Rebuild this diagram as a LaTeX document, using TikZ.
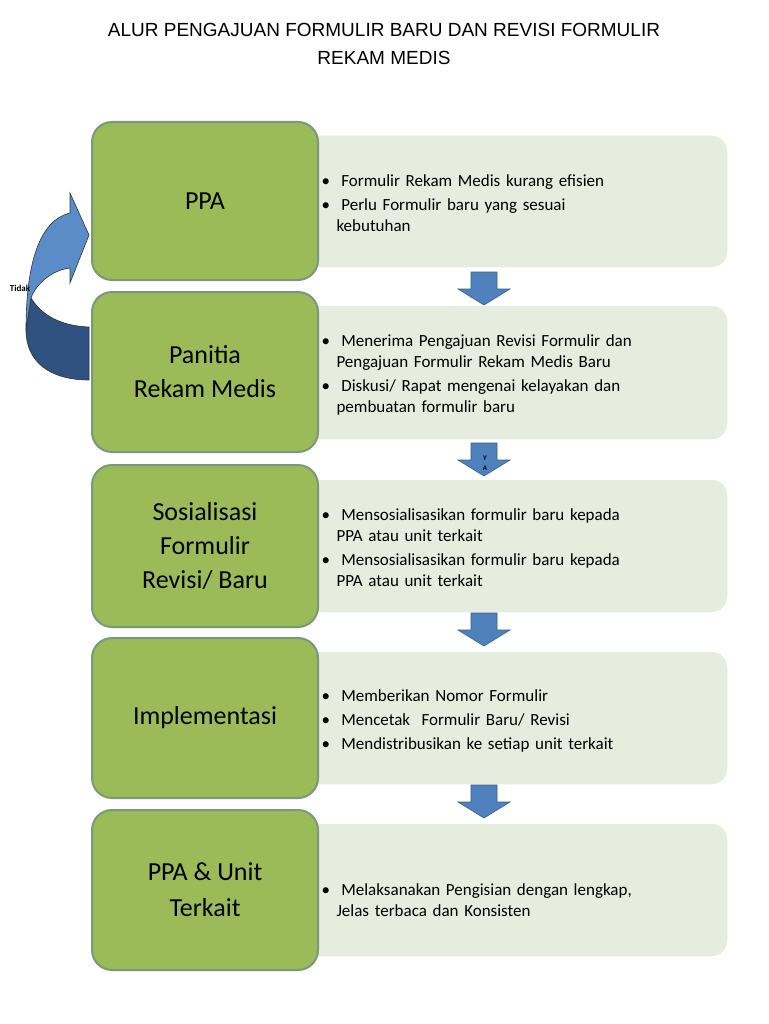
\documentclass[tikz,border=0pt]{standalone}
\usepackage{fontspec}
\setmainfont{Carlito}
\newfontfamily\arialf{Liberation Sans}
\begin{document}
\begin{tikzpicture}[x=1pt,y=-1pt,
  green/.style={draw=white!80!green!60!black,line width=2pt,fill={rgb,255:red,155;green,187;blue,89},rounded corners=20pt,align=center,font=\fontsize{25}{29}\selectfont},
  gray/.style={draw=white,line width=1.5pt,fill={rgb,255:red,230;green,236;blue,222},rounded corners=16pt},
  txt/.style={anchor=west,align=left,font=\fontsize{17}{21}\selectfont,text width=395pt},
  darr/.style={fill={rgb,255:red,79;green,129;blue,189},draw={rgb,255:red,56;green,93;blue,138},line width=0.6pt}]
\useasboundingbox (0,0) rectangle (768,1024);
\node[font=\arialf\fontsize{19}{28}\selectfont,align=center] (title) at (384,44) {ALUR PENGAJUAN FORMULIR BARU DAN REVISI FORMULIR\\REKAM MEDIS};
\foreach \i/\gt/\gb/\yt/\yb in {1/122/280/135/268,2/292/452/305/440,3/465/627/479/613,4/638/798/651/785,5/810/970/823/957}{
  \draw[gray] (300,\yt) rectangle (728,\yb);
  \draw[green] (92,\gt) rectangle (318,\gb);
  \coordinate (g\i) at (205,{(\gt+\gb)/2});
  \coordinate (t\i) at (318,{(\yt+\yb)/2});
}
\node[align=center,font=\fontsize{26}{30}\selectfont] (n1) at (g1) {PPA};
\node[align=center,font=\fontsize{26}{34}\selectfont] (n2) at (g2) {Panitia\\Rekam Medis};
\node[align=center,font=\fontsize{26}{34}\selectfont] (n3) at (g3) {Sosialisasi\\Formulir\\Revisi/ Baru};
\node[align=center,font=\fontsize{26}{30}\selectfont] (n4) at (g4) {Implementasi};
\node[align=center,font=\fontsize{26}{36}\selectfont] (n5) at (g5) {PPA \& Unit\\Terkait};
\node[txt] (d1) at ([yshift=-2]t1) {\textbullet\ \ Formulir Rekam Medis kurang efisien\\[3pt]\textbullet\ \ Perlu Formulir baru yang sesuai\\\hspace*{15pt}kebutuhan};
\node[txt] (d2) at ([yshift=-2]t2) {\textbullet\ \ Menerima Pengajuan Revisi Formulir dan\\\hspace*{15pt}Pengajuan Formulir Rekam Medis Baru\\[3pt]\textbullet\ \ Diskusi/ Rapat mengenai kelayakan dan\\\hspace*{15pt}pembuatan formulir baru};
\node[txt] (d3) at ([yshift=-2]t3) {\textbullet\ \ Mensosialisasikan formulir baru kepada\\\hspace*{15pt}PPA atau unit terkait\\[3pt]\textbullet\ \ Mensosialisasikan formulir baru kepada\\\hspace*{15pt}PPA atau unit terkait};
\node[txt] (d4) at ([yshift=-3]t4) {\textbullet\ \ Memberikan Nomor Formulir\\[3pt]\textbullet\ \ Mencetak\ \ Formulir Baru/ Revisi\\[3pt]\textbullet\ \ Mendistribusikan ke setiap unit terkait};
\node[txt] (d5) at ([yshift=-10]t5) {\textbullet\ \ Melaksanakan Pengisian dengan lengkap,\\\hspace*{15pt}Jelas terbaca dan Konsisten};
\foreach \y in {272,443,613,785}{
  \draw[darr] (471,\y) -- (497,\y) -- (497,\y+17) -- (510,\y+17) -- (484,\y+33) -- (458,\y+17) -- (471,\y+17) -- cycle;
}
\node[font=\fontsize{7}{8}\selectfont\bfseries,align=center] (ya) at (485,463) {Y\\[2pt]A};
% curved arrow
\draw[darr,fill={rgb,255:red,47;green,82;blue,128},draw=black!80] (31,298) .. controls (42,316) and (62,326) .. (89,327) -- (89,380) .. controls (50,380) and (26,362) .. (26,330) -- cycle;
\draw[darr,fill={rgb,255:red,90;green,140;blue,200},draw=black!80] (26,330) .. controls (26,262) and (40,220) .. (70,213) -- (70,193) -- (89,235) -- (70,283) -- (70,268) .. controls (52,270) and (36,284) .. (31,298) -- cycle;
\node[font=\fontsize{9}{10}\selectfont\bfseries] (tidak) at (20,288) {Tidak};
\end{tikzpicture}
\end{document}
